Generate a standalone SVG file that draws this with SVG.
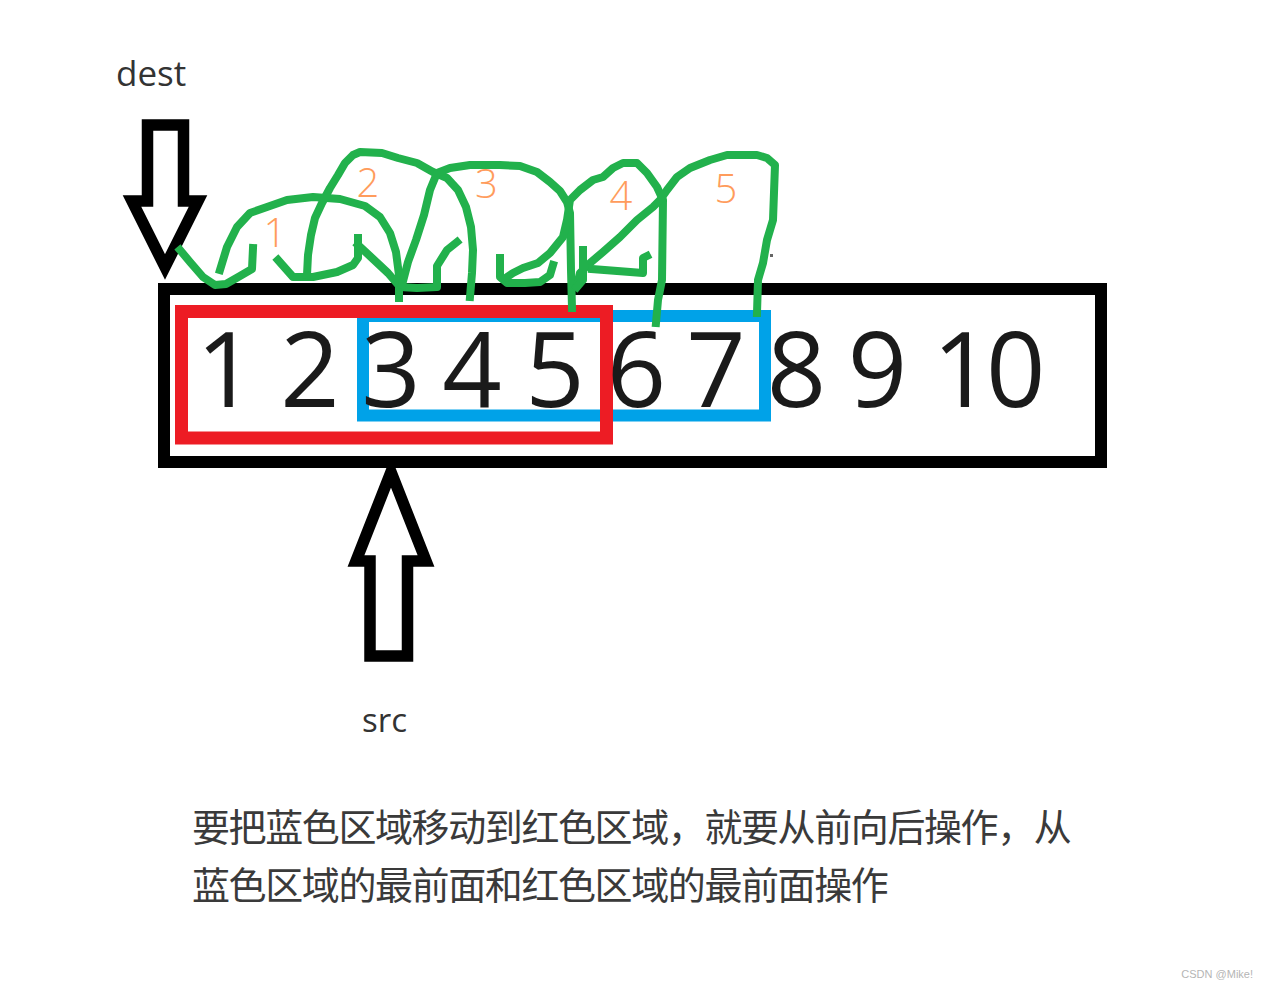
<svg xmlns="http://www.w3.org/2000/svg" width="1269" height="988" viewBox="0 0 1269 988">
<style>
.bk{fill:none;stroke:#000;stroke-width:12}
.arw{fill:none;stroke:#000;stroke-width:11.5;stroke-linejoin:miter;stroke-miterlimit:6}
.red{fill:none;stroke:#ed1c24;stroke-width:13}
.blu{fill:none;stroke:#00a2e8;stroke-width:12}
.dg{font-family:"Open Sans","DejaVu Sans",sans-serif;font-size:104px;fill:#1a1a1a;text-anchor:middle}
.lbl{font-family:"Open Sans","DejaVu Sans",sans-serif;font-size:33px;fill:#333}
.g{fill:none;stroke:#22b14c;stroke-width:8;stroke-linejoin:round;stroke-linecap:square}
.on{font-family:"Open Sans","DejaVu Sans",sans-serif;font-size:40px;font-weight:300;fill:#ff9c5c;text-anchor:middle}
.cn{font-family:"Noto Sans CJK SC","Noto Sans CJK JP",sans-serif;font-size:38px;letter-spacing:-1.4px;fill:#3a3a3a}
</style>
<rect width="1269" height="988" fill="#fff"/>
<g id="array">
<rect class="bk" x="164" y="289" width="937" height="173"/>
</g>
<g id="blue-region">
<rect class="blu" x="363" y="316" width="402" height="99.5"/>
</g>
<g id="red-region">
<rect class="red" x="181.5" y="311.5" width="425" height="126.5"/>
</g>
<g id="digits">
<text class="dg" x="226" y="407">1</text>
<text class="dg" x="310" y="407">2</text>
<text class="dg" x="391" y="407">3</text>
<text class="dg" x="472" y="407">4</text>
<text class="dg" x="555" y="407">5</text>
<text class="dg" x="636.5" y="407">6</text>
<text class="dg" x="716" y="407">7</text>
<text class="dg" x="796.5" y="407">8</text>
<text class="dg" x="877.5" y="407">9</text>
<text class="dg" x="986" y="407" letter-spacing="-6">10</text>
</g>
<g id="dest">
<text class="lbl" x="116" y="86" style="font-size:35px">dest</text>
<polygon class="arw" points="147.5,125 183.5,125 183.5,201 198,201 165,267 132,201 147.5,201"/>
</g>
<g id="src">
<polygon class="arw" points="370,656 407.5,656 407.5,561 426,561 391,472 356,561 370,561"/>
<text class="lbl" x="362" y="732">src</text>
</g>
<g id="connectors">
<polyline class="g" points="180,250 190,262 203,277 215,285 226,284 240,276 252,269 253,248"/>
<polyline class="g" points="220,270 227,247 237,227 250,213 267,207 287,200 313,197 340,199 365,206 380,217 390,233 396,252 399,275 399,298"/>
<polyline class="g" points="278,260 293,277 313,277 337,272 353,265 358,258 358,238"/>
<polyline class="g" points="307,275 308,255 311,235 315,218 322,203 330,188 338,175 345,163 353,155 360,152 382,153 398,158 417,163 433,172 447,178 458,190 466,207 471,227 473,250 472,273 470,297"/>
<polyline class="g" points="358,245 372,258 388,273 400,287 417,288 437,287 437,266 447,250 457,242"/>
<polyline class="g" points="572,308 571,270 570,213 567,202 560,191 550,182 537,172 520,166 500,165 470,165 450,168 437,173 430,190 424,215 416,240 408,262 402,285"/>
<polyline class="g" points="500,258 500,277 507,283 525,283 540,282 550,275 553,265"/>
<polyline class="g" points="656,323 658,300 662,280 663,200 657,187 647,173 637,163 623,163 613,168 603,177 593,180 580,190 570,200 567,220 563,237 550,253 538,263 523,268 513,273 507,277"/>
<polyline class="g" points="757,313 758,280 763,263 767,240 773,220 775,165 767,158 757,155 727,155 710,160 690,168 677,177 667,190 660,200 653,207 637,220 620,237 603,252 590,263 580,273 577,285"/>
<polyline class="g" points="583,250 583,280 577,287"/>
<polyline class="g" points="592,269 643,273 643,258 647,256"/>
<rect x="770" y="254" width="3" height="3" fill="#666"/>
</g>
<g id="step-labels">
<text class="on" x="275" y="247">1</text>
<text class="on" x="368" y="197">2</text>
<text class="on" x="486.5" y="198">3</text>
<text class="on" x="621" y="210">4</text>
<text class="on" x="726" y="203">5</text>
</g>
<g id="caption">
<text class="cn" x="192" y="841">要把蓝色区域移动到红色区域，就要从前向后操作，从</text>
<text class="cn" x="192" y="899">蓝色区域的最前面和红色区域的最前面操作</text>
</g>
<text x="1253" y="978" font-family="Liberation Sans, Arial, sans-serif" font-size="11" fill="#b5b5b5" text-anchor="end">CSDN @Mike!</text>
</svg>
